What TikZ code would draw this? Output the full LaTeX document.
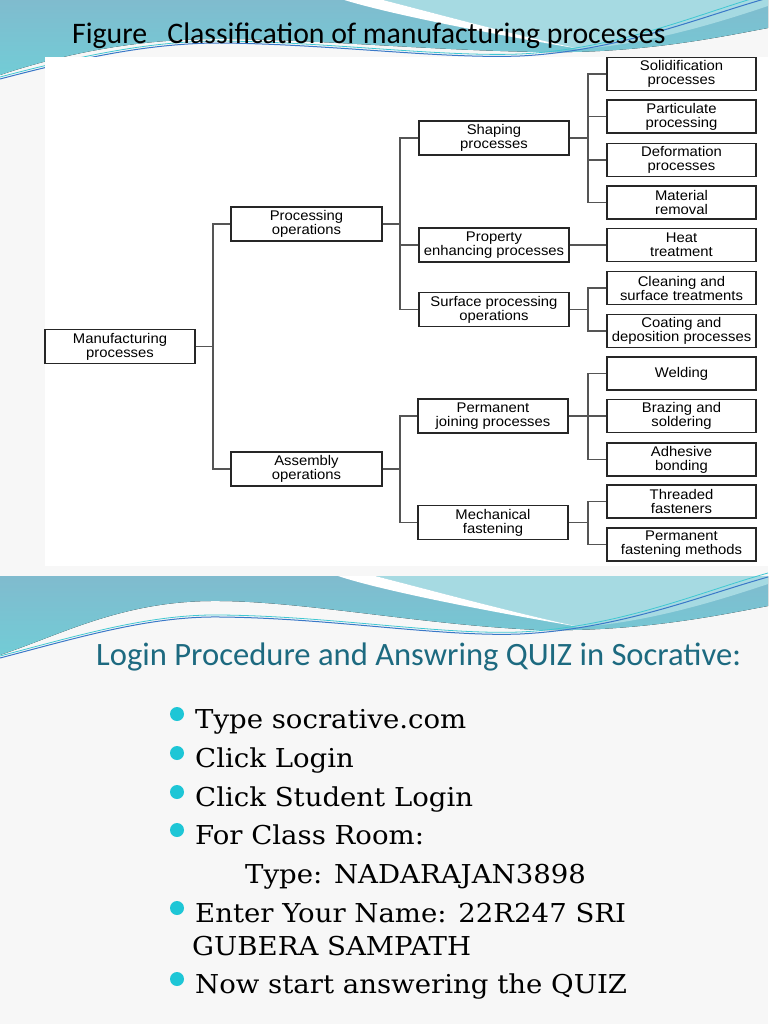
\documentclass[tikz,border=0pt]{standalone}
\usepackage{fontspec}
\setmainfont{DejaVu Serif}[FakeStretch=1.06]
\newfontfamily\carl{Carlito}
\newfontfamily\diagfont{Liberation Sans}[FakeStretch=1.06]
\definecolor{slidebg}{HTML}{F7F7F7}
\definecolor{tealA}{HTML}{80BBCE}
\definecolor{tealB}{HTML}{72CCD6}
\definecolor{lightcy}{HTML}{A6DAE2}
\definecolor{wline}{HTML}{3A78C8}
\definecolor{cline}{HTML}{40C8D2}
\definecolor{titleB}{HTML}{1D6A80}
\definecolor{bulc}{HTML}{1EC6D6}
\definecolor{conn}{HTML}{555555}
\tikzset{
  pbox/.style={draw=black!85, line width=1.3pt, minimum width=150pt, minimum height=34pt,
    inner sep=0pt, align=center, font=\diagfont\fontsize{14}{14}\selectfont},
  lbox/.style={pbox, minimum width=149pt, minimum height=33pt},
  cn/.style={draw=conn, line width=1.1pt},
  bul/.style={circle, fill=bulc, minimum size=14pt, inner sep=0pt},
  btxt/.style={anchor=base west, inner sep=0pt, font=\fontsize{26}{26}\selectfont},
}
\begin{document}
\begin{tikzpicture}[x=1pt, y=-1pt]
\useasboundingbox (0,0) rectangle (768,1024);
\clip (0,0) rectangle (768,1024);
\fill[slidebg] (0,0) rectangle (768,1024);

% ---------- banner 1 ----------
\fill[top color=tealA, bottom color=tealB] (0,-2) -- (768,-2) -- (768,28) .. controls (720,37) and (640,54) .. (540,52) .. controls (420,50) and (300,38) .. (210,39) .. controls (130,40) and (60,55) .. (0,75) -- cycle;
\fill[lightcy] (375,-2) .. controls (430,12) and (510,34) .. (580,49) .. controls (650,44) and (720,22) .. (768,6) -- (768,-2) -- cycle;
\fill[white] (338,-2) .. controls (380,12) and (480,32) .. (580,49) .. controls (510,34) and (430,12) .. (375,-2) -- cycle;
\draw[wline, line width=1pt] (0,79) .. controls (80,58) and (150,43) .. (220,43) .. controls (330,44) and (440,59) .. (520,56) .. controls (620,51) and (700,17) .. (768,-2);
\draw[cline, line width=0.8pt] (0,77) .. controls (80,56) and (150,41) .. (220,41) .. controls (330,42) and (440,57) .. (520,54) .. controls (620,49) and (700,13) .. (768,-6);

% diagram background
\fill[white] (45,57) rectangle (768,566);

\node[anchor=base west, inner sep=0pt, font=\carl\fontsize{29.8}{30}\selectfont] (t1) at (72,44) {Figure\ \ \ Classification of manufacturing processes};

% ---------- diagram ----------
\node[pbox] (man) at (120,346.5) {Manufacturing\\processes};
\node[pbox, minimum width=151pt] (proc) at (306.5,224) {Processing\\operations};
\node[pbox, minimum width=151pt] (asm) at (306.5,469) {Assembly\\operations};
\node[pbox] (shp) at (494,138) {Shaping\\processes};
\node[pbox] (prop) at (494,245) {Property\\enhancing processes};
\node[pbox] (surf) at (494,309.5) {Surface processing\\operations};
\node[pbox] (perm) at (493,416) {Permanent\\joining processes};
\node[pbox] (mech) at (493,522.5) {Mechanical\\fastening};

\node[lbox] (sol) at (681.5,74) {Solidification\\processes};
\node[lbox] (part) at (681.5,116.5) {Particulate\\processing};
\node[lbox] (def) at (681.5,160) {Deformation\\processes};
\node[lbox] (mat) at (681.5,202.5) {Material\\removal};
\node[lbox] (heat) at (681.5,245) {Heat\\treatment};
\node[lbox] (clean) at (681.5,288) {Cleaning and\\surface treatments};
\node[lbox] (coat) at (681.5,331) {Coating and\\deposition processes};
\node[lbox] (weld) at (681.5,373.5) {Welding};
\node[lbox] (braz) at (681.5,416) {Brazing and\\soldering};
\node[lbox] (adh) at (681.5,459.5) {Adhesive\\bonding};
\node[lbox] (thr) at (681.5,501.5) {Threaded\\fasteners};
\node[lbox] (pfm) at (681.5,544.5) {Permanent\\fastening methods};

\coordinate (x1) at (213,0);
\coordinate (x2) at (400,0);
\coordinate (x3) at (588,0);

\draw[cn] (man.east) -- (man.east -| x1);
\draw[cn] (proc.west) -- (proc.west -| x1) -- (asm.west -| x1) -- (asm.west);

\draw[cn] (proc.east) -- (proc.east -| x2);
\draw[cn] (shp.west) -- (shp.west -| x2) -- (surf.west -| x2) -- (surf.west);
\draw[cn] (prop.west) -- (prop.west -| x2);
\draw[cn] (asm.east) -- (asm.east -| x2);
\draw[cn] (perm.west) -- (perm.west -| x2) -- (mech.west -| x2) -- (mech.west);

\draw[cn] (shp.east) -- (shp.east -| x3);
\draw[cn] (sol.west) -- (sol.west -| x3) -- (mat.west -| x3) -- (mat.west);
\draw[cn] (part.west) -- (part.west -| x3);
\draw[cn] (def.west) -- (def.west -| x3);
\draw[cn] (prop.east) -- (heat.west);
\draw[cn] (surf.east) -- (surf.east -| x3);
\draw[cn] (clean.west) -- (clean.west -| x3) -- (coat.west -| x3) -- (coat.west);
\draw[cn] (perm.east) -- (braz.west);
\draw[cn] (weld.west) -- (weld.west -| x3) -- (adh.west -| x3) -- (adh.west);
\draw[cn] (mech.east) -- (mech.east -| x3);
\draw[cn] (thr.west) -- (thr.west -| x3) -- (pfm.west -| x3) -- (pfm.west);

% ---------- banner 2 ----------
\fill[top color=tealA, bottom color=tealB] (0,576) -- (768,576) -- (768,606) .. controls (720,615) and (640,632) .. (540,630) .. controls (420,625) and (300,600) .. (210,601) .. controls (120,602) and (60,635) .. (0,655) -- cycle;
\fill[lightcy] (375,576) .. controls (430,590) and (510,612) .. (580,627) .. controls (650,622) and (720,600) .. (768,584) -- (768,576) -- cycle;
\fill[white] (338,576) .. controls (380,590) and (480,610) .. (580,627) .. controls (510,612) and (430,590) .. (375,576) -- cycle;
\draw[wline, line width=1pt] (0,658) .. controls (80,637) and (150,616) .. (220,617) .. controls (330,618) and (440,637) .. (520,634) .. controls (620,629) and (700,596) .. (768,577);
\draw[cline, line width=0.8pt] (0,656) .. controls (80,635) and (150,614) .. (220,615) .. controls (330,616) and (440,635) .. (520,632) .. controls (620,627) and (700,592) .. (768,573);

\node[anchor=base west, inner sep=0pt, text=titleB, font=\carl\fontsize{32.6}{33}\selectfont] (t2) at (96,665) {Login Procedure and Answring QUIZ in Socrative:};

% ---------- bullets ----------
\node[bul] (d1) at (177,714) {};
\node[btxt] (b1) at (195,728) {Type socrative.com};
\node[bul] (d2) at (177,753) {};
\node[btxt] (b2) at (195,767) {Click Login};
\node[bul] (d3) at (177,792) {};
\node[btxt] (b3) at (195,806) {Click Student Login};
\node[bul] (d4) at (177,830) {};
\node[btxt] (b4) at (195,844) {For Class Room:};
\node[btxt] (b5) at (245,883) {Type: NADARAJAN3898};
\node[bul] (d6) at (177,908) {};
\node[btxt] (b6) at (195,922) {Enter Your Name: 22R247 SRI};
\node[btxt] (b7) at (192,955) {GUBERA SAMPATH};
\node[bul] (d8) at (177,979) {};
\node[btxt] (b8) at (195,993) {Now start answering the QUIZ};
\end{tikzpicture}
\end{document}
